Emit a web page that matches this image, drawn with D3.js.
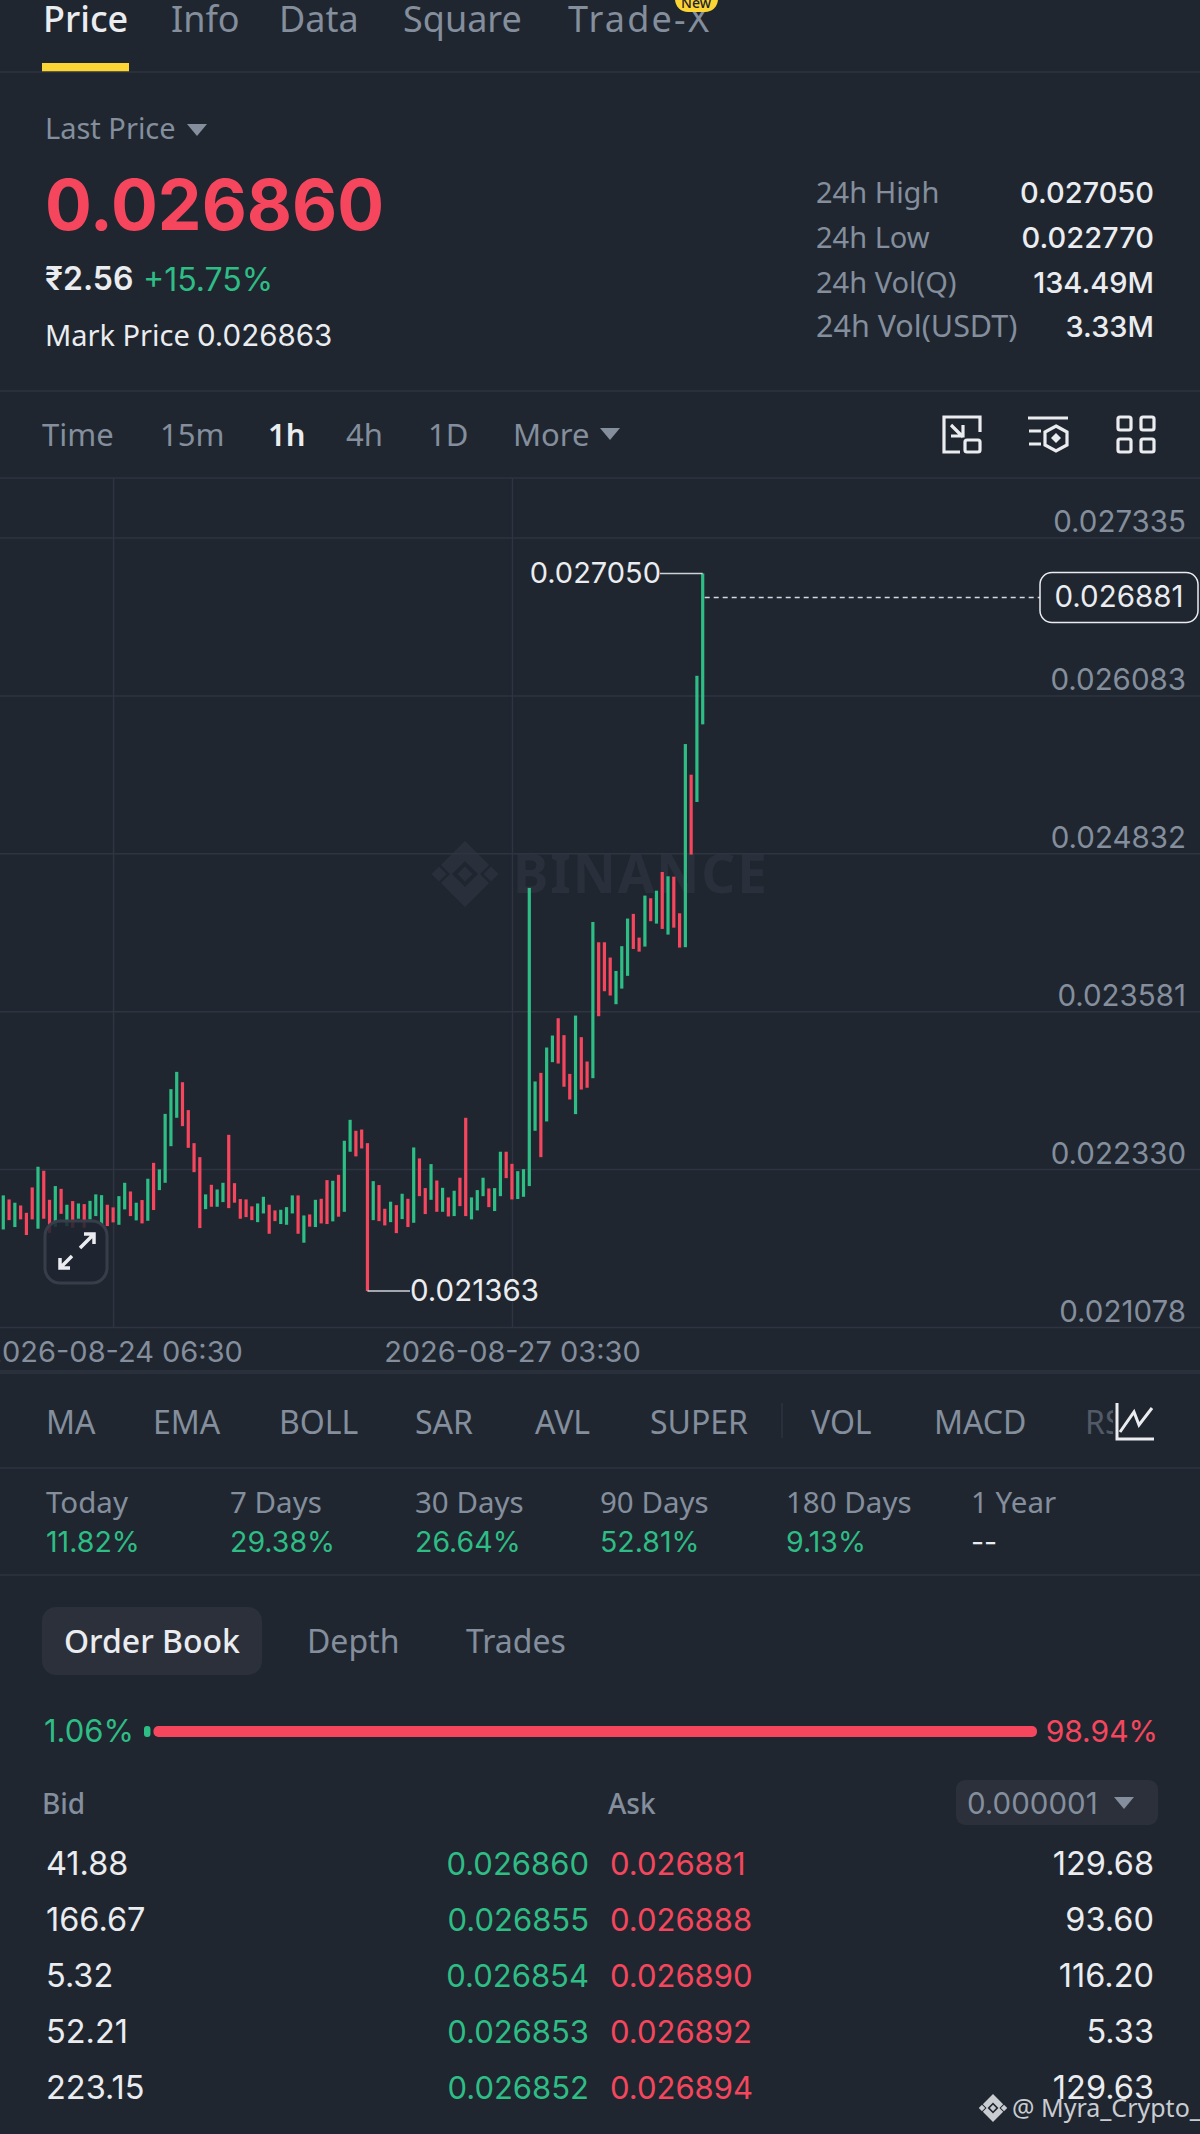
<!DOCTYPE html>
<html>
<head>
<meta charset="utf-8">
<script src="https://cdn.jsdelivr.net/npm/d3@7"></script>
<style>
  html, body { margin: 0; padding: 0; background: #1f2630; }
  svg { display: block; }
  text { font-family: "Noto Sans", sans-serif; }
</style>
</head>
<body>
<svg id="app"></svg>
<script>
// Hourly candles
const highs = [
  0.022121,0.022089,0.022063,0.022041,0.021983,0.022184,0.022348,0.022316,0.022086,0.022195,
  0.022173,0.022047,0.022076,0.022057,0.022052,0.022078,0.022129,0.022123,0.022047,0.022026,
  0.022115,0.022221,0.022152,0.022063,0.022084,0.022253,0.022379,0.022327,0.022767,0.022963,
  0.023100,0.023018,0.022797,0.022535,0.022424,0.022129,0.022205,0.022168,0.022221,0.022601,
  0.022218,0.022092,0.022089,0.022034,0.022057,0.022110,0.022047,0.022002,0.022007,0.022028,
  0.022121,0.022121,0.021962,0.021970,0.022086,0.022094,0.022242,0.022237,0.022284,0.022554,
  0.022720,0.022633,0.022643,0.022535,0.022234,0.022203,0.022015,0.022071,0.022044,0.022134,
  0.022094,0.022501,0.022414,0.022179,0.022369,0.022239,0.022181,0.022105,0.022158,0.022261,
  0.022736,0.022105,0.022163,0.022261,0.022176,0.022179,0.022467,0.022467,0.022371,0.022313,
  0.022329,0.024558,0.023024,0.023092,0.023293,0.023388,0.023525,0.023391,0.023084,0.023546,
  0.023375,0.023182,0.024288,0.024127,0.024127,0.024006,0.023900,0.024096,0.024315,0.024352,
  0.024164,0.024497,0.024476,0.024536,0.024684,0.024650,0.024647,0.024357,0.025698,0.025455,
  0.026239,0.027050
];
const lows = [
  0.021851,0.021925,0.021870,0.021931,0.021807,0.021931,0.021857,0.021936,0.021825,0.021873,
  0.021975,0.021878,0.021865,0.021936,0.021865,0.021931,0.021957,0.021891,0.021878,0.021907,
  0.021888,0.022010,0.021957,0.021923,0.021899,0.021920,0.022005,0.022163,0.022221,0.022511,
  0.022736,0.022670,0.022498,0.022305,0.021862,0.022012,0.022031,0.022031,0.022068,0.022020,
  0.022063,0.021936,0.021949,0.021925,0.021909,0.021978,0.021817,0.021917,0.021894,0.021888,
  0.021978,0.021817,0.021746,0.021873,0.021870,0.021899,0.021894,0.021915,0.021952,0.021991,
  0.022467,0.022430,0.022493,0.021363,0.021925,0.021917,0.021883,0.021909,0.021822,0.021933,
  0.021870,0.021904,0.022115,0.021973,0.022086,0.021991,0.021991,0.021954,0.021957,0.022036,
  0.021957,0.021931,0.022002,0.022115,0.022028,0.021997,0.022115,0.022258,0.022089,0.022092,
  0.022110,0.022195,0.022633,0.022424,0.022707,0.023177,0.023166,0.022982,0.022881,0.022765,
  0.022960,0.022974,0.023050,0.023541,0.023739,0.023705,0.023636,0.023760,0.023861,0.024074,
  0.024053,0.024093,0.024294,0.024275,0.024233,0.024188,0.024243,0.024085,0.024088,0.024822,
  0.025239,0.025854
];
// g = closed up, r = closed down, ten candles per chunk
const directions = [
  "grgrrrgrrg", "rgrgrgggrr", "ggrgrgrggg", "grrrrgrggr", "rrrrggrrgg", "grgrgrrgrg",
  "grrrgrrgrg", "rgrrgrgrgr", "rgggrggrrg", "gggrggrrrg", "rrgrrrgggr", "rgrgrgrrgr", "gg"
].join("").split("");

const priceTicks = [0.027335, 0.026083, 0.024832, 0.023581, 0.02233, 0.021078];
const timeTickIndex = [19, 88];
const timeTickLabels = ["2026-08-24 06:30", "2026-08-27 03:30"];
const highIndex = 121, highPrice = 0.02705;
const lowIndex = 63, lowPrice = 0.021363;
const lastPrice = 0.02686, askTag = "0.026881";

const mainTabs = ["Price", "Info", "Data", "Square", "Trade-X"];
const summaryLeft = ["Last Price", "0.026860", "₹2.56", "+15.75%", "Mark Price", "0.026863"];
const statNames = ["24h High", "24h Low", "24h Vol(Q)", "24h Vol(USDT)"];
const statValues = ["0.027050", "0.022770", "134.49M", "3.33M"];
const intervals = ["Time", "15m", "1h", "4h", "1D", "More"];
const indicators = ["MA", "EMA", "BOLL", "SAR", "AVL", "SUPER", "VOL", "MACD", "RSI"];
const periods = ["Today", "7 Days", "30 Days", "90 Days", "180 Days", "1 Year"];
const periodValues = ["11.82%", "29.38%", "26.64%", "52.81%", "9.13%", "--"];
const bookTabs = ["Order Book", "Depth", "Trades"];
const bidShare = 1.06, askShare = 98.94;
const bidQty = ["41.88", "166.67", "5.32", "52.21", "223.15"];
const bidPrice = ["0.026860", "0.026855", "0.026854", "0.026853", "0.026852"];
const askPrice = ["0.026881", "0.026888", "0.026890", "0.026892", "0.026894"];
const askQty = ["129.68", "93.60", "116.20", "5.33", "129.63"];

const WIDTH = 1200, HEIGHT = 2134;
const BG = "#1f2630", GRID = "#2e3540", GRAY = "#848e9c", WHITE = "#eaecef", GREEN = "#2ebd85", RED = "#f6465d";
const NUM_FONT = "Inter, sans-serif";

const svg = d3.select("#app").attr("width", WIDTH).attr("height", HEIGHT);
svg.append("rect").attr("width", WIDTH).attr("height", HEIGHT).attr("fill", BG);

// small helper for all the plain labels
function label(x, y, str, size, color, opts = {}) {
  const t = svg.append("text")
    .attr("x", x).attr("y", y)
    .attr("font-size", size)
    .attr("fill", color)
    .attr("font-weight", opts.weight || 400)
    .attr("text-anchor", opts.anchor || "start")
    .attr("opacity", opts.opacity == null ? 1 : opts.opacity)
    .text(str);
  if (opts.num) t.style("font-family", NUM_FONT);
  return t;
}
function hline(y) {
  svg.append("line").attr("x1", 0).attr("x2", WIDTH).attr("y1", y).attr("y2", y)
    .attr("stroke", GRID).attr("stroke-width", 1.5);
}
function triangle(x, y, w, h, color) {
  svg.append("path").attr("d", `M${x},${y}h${w}l${-w / 2},${h}z`).attr("fill", color);
}
// exchange logo: two chevrons and three diamonds, r = half of its size
function logo(cx, cy, r, color) {
  const k = r / 33;
  const g = svg.append("g").attr("transform", `translate(${cx},${cy}) scale(${k})`).attr("fill", color);
  g.append("path").attr("d", "M0,-33L24,-9L14,1L0,-13L-14,1L-24,-9Z");
  g.append("path").attr("d", "M0,33L24,9L14,-1L0,13L-14,-1L-24,9Z");
  [-26, 0, 26].forEach(c => g.append("path").attr("d", `M${c},-7.5l7.5,7.5l-7.5,7.5l-7.5,-7.5z`));
}

// === Top tabs ===
const tabX = [43, 171, 279, 403, 568];
mainTabs.forEach((t, i) => {
  const tab = label(tabX[i], 32, t, 36, i === 0 ? WHITE : GRAY, { weight: i === 0 ? 500 : 400 });
  if (i === 4) tab.attr("textLength", 141);
});
svg.append("rect").attr("x", 42).attr("y", 63).attr("width", 87).attr("height", 9).attr("fill", "#fcd535");
svg.append("rect").attr("x", 675).attr("y", -20).attr("width", 43).attr("height", 32).attr("rx", 13).attr("fill", "#fcd535");
label(696, 8, "New", 14, "#1e2329", { anchor: "middle", weight: 500 });
hline(72);

// === Price summary ===
label(45, 139, summaryLeft[0], 29, GRAY);
triangle(187, 124, 20, 12, GRAY);
label(45, 230, summaryLeft[1], 69.5, RED, { weight: 700, num: true });
label(45, 290, summaryLeft[2], 32, WHITE, { weight: 600, num: true });
label(143, 291, summaryLeft[3], 32, GREEN, { num: true });
label(45, 346, summaryLeft[4], 29, WHITE);
label(197, 346, summaryLeft[5], 29.5, WHITE, { num: true });

statNames.forEach((s, i) => {
  const y = 203 + i * 44.8;
  label(816, y, s, i === 3 ? 30.5 : 29, GRAY);
  label(1154, y, statValues[i], 29, WHITE, { anchor: "end", weight: 500, num: true });
});
hline(391);

// === Interval row ===
const intervalX = [42, 160, 268, 346, 428, 513];
intervals.forEach((t, i) => label(intervalX[i], 446, t, 31, i === 2 ? WHITE : GRAY, { weight: i === 2 ? 600 : 400 }));
triangle(600, 428, 20, 12, GRAY);

const icons = svg.append("g").attr("fill", "none").attr("stroke", WHITE).attr("stroke-width", 3.2);
icons.append("path").attr("d", "M980,432V417H944V452H960M951,425l12,12M951,436h12v-11");
icons.append("rect").attr("x", 965).attr("y", 440).attr("width", 15).attr("height", 12).attr("rx", 2);
icons.append("path").attr("d", "M1028,418H1068M1029,431H1041M1029,444H1041");
icons.append("path").attr("d", "M1056,426L1067,432V445L1056,451L1045,445V432Z");
icons.append("path").attr("d", "M1056,433l5,5l-5,5l-5,-5z").attr("fill", WHITE).attr("stroke", "none");
[[1118, 417], [1141, 417], [1118, 439], [1141, 439]].forEach(p =>
  icons.append("rect").attr("x", p[0]).attr("y", p[1]).attr("width", 13).attr("height", 13).attr("rx", 2));
hline(478);

// === Candlestick chart ===
const x = d3.scaleLinear().domain([0, 121]).range([3.3, 702.7]);
const y = d3.scaleLinear().domain([d3.min(priceTicks), d3.max(priceTicks)]).range([1327, 537.5]);

// Watermark under the grid
logo(465, 874, 33, "#2a303b");
svg.append("text").attr("x", 513).attr("y", 893)
  .attr("font-size", 53).attr("font-weight", 700).attr("fill", "#2a303b")
  .attr("textLength", 254).attr("lengthAdjust", "spacing")
  .text("BINANCE");

// Horizontal grid with the price labels on it
const yAxis = svg.append("g")
  .attr("transform", "translate(1200,0)")
  .call(d3.axisLeft(y).tickValues(priceTicks).tickSize(1200).tickFormat(d3.format(".6f")));
yAxis.select(".domain").remove();
yAxis.selectAll(".tick line").attr("stroke", GRID).attr("stroke-width", 1.5);
yAxis.selectAll(".tick text")
  .attr("x", -14).attr("dy", -6)
  .attr("text-anchor", "end")
  .attr("font-size", 29.5)
  .attr("fill", GRAY)
  .style("font-family", NUM_FONT);

// Vertical grid with the time labels under it
const xAxis = svg.append("g")
  .attr("transform", "translate(0,1327)")
  .call(d3.axisBottom(x).tickValues(timeTickIndex).tickSize(-849)
    .tickFormat((d, i) => timeTickLabels[i]));
xAxis.select(".domain").remove();
xAxis.selectAll(".tick line").attr("stroke", GRID).attr("stroke-width", 1.5);
xAxis.selectAll(".tick text")
  .attr("y", 35).attr("dy", 0)
  .attr("font-size", 29)
  .attr("fill", GRAY)
  .style("font-family", NUM_FONT);

// Candles
svg.append("g").selectAll("rect")
  .data(highs)
  .enter()
  .append("rect")
  .attr("x", (d, i) => x(i) - 1.6)
  .attr("y", d => y(d))
  .attr("width", 3.2)
  .attr("height", (d, i) => y(lows[i]) - y(d))
  .attr("fill", (d, i) => directions[i] === "g" ? GREEN : RED);

// High / low callouts
svg.append("line").attr("x1", x(highIndex)).attr("x2", 660)
  .attr("y1", y(highPrice)).attr("y2", y(highPrice)).attr("stroke", "#cfd3d8").attr("stroke-width", 1.5);
label(661, y(highPrice) + 10, d3.format(".6f")(highPrice), 29, WHITE, { anchor: "end", num: true });
svg.append("line").attr("x1", x(lowIndex)).attr("x2", 410)
  .attr("y1", y(lowPrice)).attr("y2", y(lowPrice)).attr("stroke", "#cfd3d8").attr("stroke-width", 1.5);
label(410, y(lowPrice) + 10, d3.format(".6f")(lowPrice), 29.5, WHITE, { num: true });

// Last price line and tag
svg.append("line").attr("x1", x(highIndex) + 2).attr("x2", 1040)
  .attr("y1", y(lastPrice)).attr("y2", y(lastPrice))
  .attr("stroke", "#d5d8dc").attr("stroke-width", 1.5).attr("stroke-dasharray", "5 4");
svg.append("rect").attr("x", 1040).attr("y", y(lastPrice) - 25).attr("width", 158).attr("height", 50).attr("rx", 12)
  .attr("fill", BG).attr("stroke", "#eaecef").attr("stroke-width", 1.5);
label(1119, y(lastPrice) + 10, askTag, 29.5, WHITE, { anchor: "middle", num: true });

// Expand button sitting over the candles
svg.append("rect").attr("x", 45).attr("y", 1221).attr("width", 62).attr("height", 62).attr("rx", 15)
  .attr("fill", BG).attr("fill-opacity", 0.85).attr("stroke", "#383e49").attr("stroke-width", 3);
svg.append("path").attr("d", "M60,1268L72,1256M60,1258v10h10M94,1234L80,1248M84,1234h10v10")
  .attr("fill", "none").attr("stroke", WHITE).attr("stroke-width", 3.5);

hline(1371);
hline(1373);

// === Indicator row ===
const indicatorX = [46, 153, 279, 415, 535, 650, 811, 934, 1085];
indicators.forEach((t, i) => label(indicatorX[i], 1434, t, 32, GRAY, { opacity: i === 8 ? 0.5 : 1 }));
svg.append("line").attr("x1", 782).attr("x2", 782).attr("y1", 1403).attr("y2", 1438).attr("stroke", GRID).attr("stroke-width", 1.5);
svg.append("rect").attr("x", 1113).attr("y", 1398).attr("width", 87).attr("height", 50).attr("fill", BG);
svg.append("path").attr("d", "M1117,1403V1439H1154M1120,1432L1134,1412L1139,1425L1152,1408")
  .attr("fill", "none").attr("stroke", WHITE).attr("stroke-width", 3);
hline(1468);

// === Period changes ===
const periodX = [46, 230, 415, 600, 786, 971];
periods.forEach((t, i) => {
  label(periodX[i], 1513, t, 29.5, GRAY);
  label(periodX[i], 1552, periodValues[i], 28.5, i === 5 ? WHITE : GREEN, { num: true });
});
hline(1575);

// === Order book tabs ===
svg.append("rect").attr("x", 42).attr("y", 1607).attr("width", 220).attr("height", 68).attr("rx", 14).attr("fill", "#2b303b");
const bookX = [64, 307, 466];
bookTabs.forEach((t, i) => label(bookX[i], 1653, t, 32, i === 0 ? WHITE : GRAY, { weight: i === 0 ? 500 : 400 }));

// Bid / ask share bar
const share = d3.scaleLinear().domain([0, bidShare + askShare]).range([144, 1037]);
label(44, 1742, bidShare + "%", 31, GREEN, { num: true });
svg.append("rect").attr("x", share(0)).attr("y", 1726).attr("width", share(bidShare) - share(0) - 3).attr("height", 11).attr("rx", 3).attr("fill", GREEN);
svg.append("rect").attr("x", share(bidShare)).attr("y", 1726).attr("width", share(bidShare + askShare) - share(bidShare)).attr("height", 11).attr("rx", 5).attr("fill", RED);
label(1158, 1742, askShare + "%", 30, RED, { anchor: "end", num: true });

// Order book table
label(42, 1814, "Bid", 28, GRAY, { weight: 500 });
label(608, 1814, "Ask", 28, GRAY, { weight: 500 });
svg.append("rect").attr("x", 956).attr("y", 1780).attr("width", 202).attr("height", 45).attr("rx", 9).attr("fill", "#2b303b");
label(967, 1814, "0.000001", 29.5, GRAY, { num: true });
triangle(1114, 1797, 20, 12, GRAY);

const rowY = d3.scalePoint().domain(d3.range(bidQty.length)).range([1875, 2099]);
bidQty.forEach((q, i) => {
  label(46, rowY(i), q, 32.5, WHITE, { num: true });
  label(589, rowY(i), bidPrice[i], 31, GREEN, { anchor: "end", num: true });
  label(610, rowY(i), askPrice[i], 31, RED, { num: true });
  label(1154, rowY(i), askQty[i], 32.5, WHITE, { anchor: "end", num: true });
});

// Site watermark, bottom right
logo(993, 2108, 14, "#c9ccd1");
label(1012, 2117, "@ Myra_Crypto_", 25, "#c9ccd1");
</script>
</body>
</html>
